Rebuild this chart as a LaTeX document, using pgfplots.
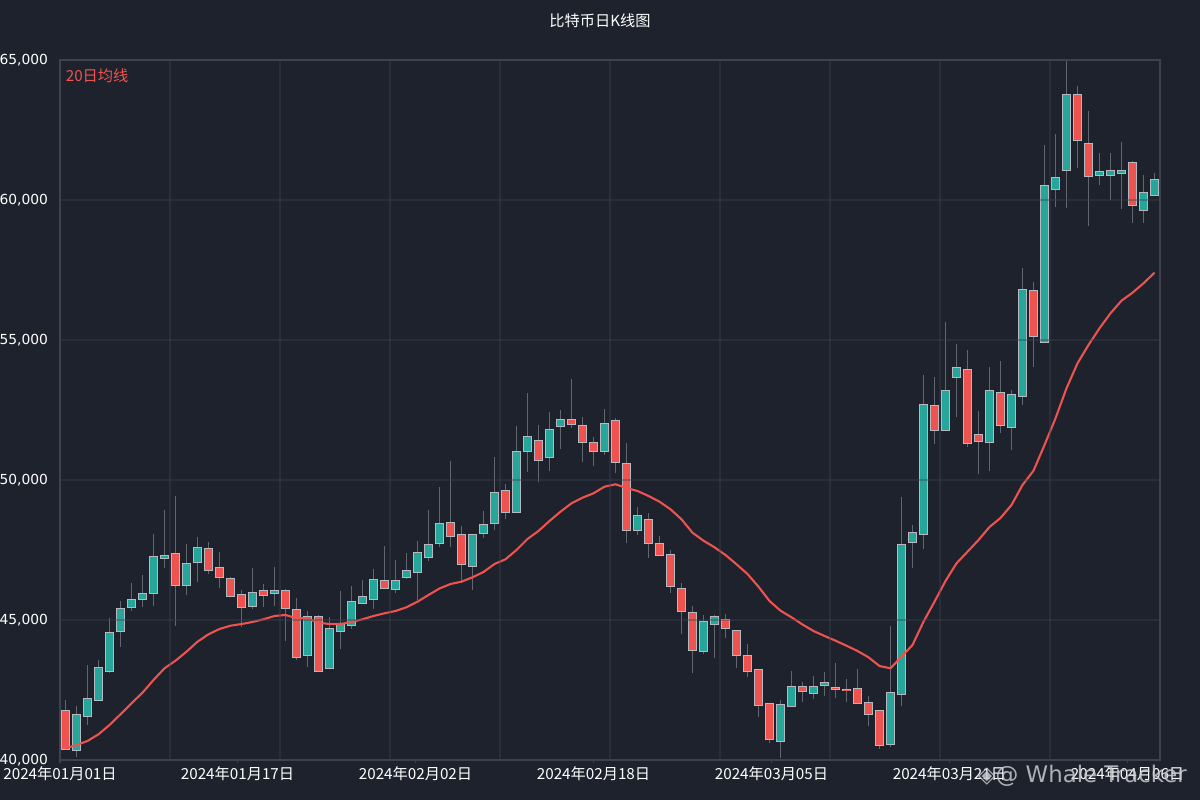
\documentclass[border=0pt]{standalone}
\usepackage{fontspec}
\setmainfont{DejaVu Sans}
\newfontfamily\cjk{Noto Sans CJK SC}
\usepackage{pgfplots}
\usepackage{pgfplotstable}
\pgfplotsset{compat=1.18}
\definecolor{bg}{RGB}{30,34,45}
\definecolor{gridc}{RGB}{62,66,78}
\definecolor{upc}{RGB}{38,166,154}
\definecolor{dnc}{RGB}{239,83,80}
\definecolor{edgec}{RGB}{182,185,191}
\definecolor{wickc}{RGB}{98,102,110}
\definecolor{wmc}{RGB}{200,202,206}

\pgfplotstableread{
i o h l c
0 41750 42143 40357 40382
1 40332 41929 40118 41607
2 41546 43393 41250 42189
3 42118 43571 42100 43296
4 43179 45082 43096 44546
5 44582 45689 44046 45418
6 45439 46332 45321 45714
7 45739 46607 45475 45954
8 45939 48071 45511 47250
9 47189 48929 46868 47296
10 47357 49429 44796 46225
11 46225 47714 45904 47011
12 47061 47975 46368 47596
13 47536 47796 46632 46761
14 46868 47439 46154 46511
15 46475 46546 45821 45846
16 45904 46071 44761 45464
17 45500 46868 45382 45989
18 46036 46275 45475 45882
19 45939 46882 45500 46036
20 46046 46107 44261 45418
21 45368 45796 43571 43679
22 43725 45321 43332 45132
23 45132 45179 43143 43179
24 43286 45118 43250 44689
25 44582 46036 43964 44882
26 44821 46225 44679 45654
27 45596 46429 45571 45846
28 45739 46821 45393 46439
29 46393 47643 46107 46132
30 46082 47143 45954 46393
31 46511 47382 46480 46775
32 46704 47821 45714 47404
33 47239 48929 47107 47689
34 47732 49761 47618 48454
35 48489 50679 47618 47975
36 48061 48368 46368 47000
37 46904 48070 46071 48061
38 48107 48893 47939 48418
39 48454 50811 48214 49561
40 49607 49846 48596 48832
41 48832 51929 48820 51011
42 51011 53096 50296 51546
43 51404 51964 49939 50714
44 50811 52418 50321 51786
45 51929 52500 51096 52168
46 52168 53607 51846 51989
47 51929 52261 50632 51346
48 51346 51546 50511 51011
49 51011 52536 50893 52025
50 52118 52225 50239 50632
51 50571 51311 47761 48214
52 48214 49036 48018 48743
53 48596 48832 47204 47739
54 47725 48011 47286 47296
55 47332 47500 45975 46189
56 46132 46332 44500 45321
57 45275 45511 43096 43929
58 43868 45179 43786 44939
59 44846 45179 43632 45118
60 45025 45214 44368 44689
61 44607 44610 43296 43725
62 43725 44143 42954 43154
63 43239 43250 41525 41939
64 42025 42030 40596 40739
65 40679 42143 40061 41989
66 41904 43189 41890 42618
67 42618 42796 42082 42464
68 42382 43000 42179 42618
69 42654 43154 42286 42761
70 42570 43475 42204 42540
71 42520 42893 42082 42490
72 42536 43239 42020 42025
73 42036 42286 41214 41643
74 41750 41750 40382 40536
75 40571 44786 40454 42418
76 42357 49404 41929 47679
77 47761 48393 46868 48118
78 48061 53750 47536 52704
79 52643 53668 51286 51786
80 51786 55632 51780 53189
81 53668 54857 52239 54011
82 53954 54643 51161 51311
83 51632 52464 50204 51393
84 51346 54046 50332 53179
85 53118 54250 51668 51939
86 51882 53214 51071 53036
87 52975 57561 52679 56811
88 56761 57061 54025 55118
89 54918 61964 54910 60511
90 60382 62357 59761 60811
91 61046 64980 59704 63750
92 63750 64082 61154 62118
93 62025 63179 59082 60857
94 60893 61668 60536 61000
95 60893 61668 60000 61046
96 60954 62061 59668 61046
97 61332 61393 59168 59796
98 59643 60893 59168 60275
99 60168 60954 60160 60714
}\candles

\pgfplotstableread{
i ma
0 40418
1 40536
2 40679
3 40918
4 41250
5 41632
6 42025
7 42404
8 42857
9 43275
10 43546
11 43868
12 44225
13 44489
14 44679
15 44796
16 44857
17 44929
18 45025
19 45143
20 45179
21 45061
22 45061
23 44904
24 44857
25 44857
26 44929
27 45025
28 45143
29 45239
30 45321
31 45454
32 45654
33 45893
34 46125
35 46286
36 46368
37 46525
38 46714
39 47000
40 47168
41 47500
42 47893
43 48179
44 48536
45 48868
46 49168
47 49368
48 49525
49 49761
50 49846
51 49714
52 49607
53 49429
54 49225
55 48954
56 48596
57 48118
58 47832
59 47596
60 47321
61 46989
62 46643
63 46189
64 45679
65 45332
66 45096
67 44839
68 44607
69 44429
70 44261
71 44082
72 43893
73 43668
74 43357
75 43275
76 43689
77 44107
78 44939
79 45654
80 46393
81 47025
82 47439
83 47857
84 48321
85 48643
86 49107
87 49821
88 50332
89 51250
90 52204
91 53275
92 54168
93 54821
94 55418
95 55954
96 56404
97 56689
98 57025
99 57404
}\matab

\begin{document}
\begin{tikzpicture}
\fill[bg] (0bp,0bp) rectangle (864bp,576bp);
\begin{axis}[
  at={(43.2bp,28.8bp)}, anchor=south west,
  scale only axis, width=792bp, height=504bp,
  xmin=-0.5, xmax=99.5, ymin=40000, ymax=65000,
  scaled y ticks=false,
  axis on top,
  axis line style={draw=gridc, line width=0.8bp},
  tick pos=left,
  tick align=outside,
  major tick length=2.5bp,
  minor tick length=0pt,
  xtick={-0.5,15.636,31.818,48,64.18,80.36,96.55},
  xticklabels={2024年01月01日,2024年01月17日,2024年02月02日,2024年02月18日,2024年03月05日,2024年03月21日,2024年04月06日},
  minor xtick={9.5,19.5,...,89.5},
  xminorgrids=true, xmajorgrids=false,
  ytick={40000,45000,...,65000},
  yticklabels={{40,000},{45,000},{50,000},{55,000},{60,000},{65,000}},
  ymajorgrids=true,
  grid style={draw=gridc, opacity=0.4, line width=0.9bp},
  xtick style={draw=gridc, line width=0.8bp},
  ytick style={draw=none},
  xticklabel style={font=\cjk\fontsize{11}{13}\selectfont, text=white, inner sep=0pt, yshift=-2bp},
  yticklabel style={font=\fontsize{10}{12}\selectfont, text=white, inner sep=0pt, anchor=east, xshift=-6bp},
  legend style={at={(0,1)}, anchor=north west, xshift=1bp, yshift=-4bp, draw=none, fill=none,
    text=dnc, font=\cjk\fontsize{11}{13}\selectfont, nodes={inner sep=0pt}, column sep=0pt},
  legend cell align=left,
]
% wicks
\addplot[only marks, mark size=0pt, mark options={draw=none, fill=none}, forget plot,
  error bars/.cd, y dir=plus, y explicit, error mark=none,
  error bar style={draw=wickc, line width=0.75bp}]
  table[x=i, y=l, y error expr={\thisrow{h}-\thisrow{l}}]{\candles};
% body outlines
\addplot[only marks, mark size=0pt, mark options={draw=none, fill=none}, forget plot,
  error bars/.cd, y dir=both, y explicit, error mark=none,
  error bar style={draw=edgec, line width=6.5bp}]
  table[x=i, y expr={(\thisrow{o}+\thisrow{c})/2}, y error expr={abs(\thisrow{c}-\thisrow{o})/2+24}]{\candles};
% up bodies
\addplot[only marks, mark size=0pt, mark options={draw=none, fill=none}, forget plot,
  restrict expr to domain={\thisrow{c}-\thisrow{o}}{0:100000},
  error bars/.cd, y dir=both, y explicit, error mark=none,
  error bar style={draw=upc, line width=5.3bp}]
  table[x=i, y expr={(\thisrow{o}+\thisrow{c})/2}, y error expr={max(abs(\thisrow{c}-\thisrow{o})/2-14,0)}]{\candles};
% down bodies
\addplot[only marks, mark size=0pt, mark options={draw=none, fill=none}, forget plot,
  restrict expr to domain={\thisrow{c}-\thisrow{o}}{-100000:-1},
  error bars/.cd, y dir=both, y explicit, error mark=none,
  error bar style={draw=dnc, line width=5.3bp}]
  table[x=i, y expr={(\thisrow{o}+\thisrow{c})/2}, y error expr={max(abs(\thisrow{c}-\thisrow{o})/2-14,0)}]{\candles};
% moving average
\addplot[dnc, line width=1.5bp, mark=none, legend image code/.code={}] table[x=i, y=ma]{\matab};
\addlegendentry{20日均线}
\end{axis}
\node[anchor=base, text=white, font=\cjk\fontsize{11}{13}\selectfont] at (432bp,557bp) {比特币日K线图};
\node[anchor=base east, text=wmc, opacity=0.85, font=\fontsize{16.5}{18}\selectfont] at (858bp,12.5bp) {◈@ Whale Tracker};
\pgfresetboundingbox
\useasboundingbox (0bp,0bp) rectangle (864bp,576bp);
\end{tikzpicture}
\end{document}
